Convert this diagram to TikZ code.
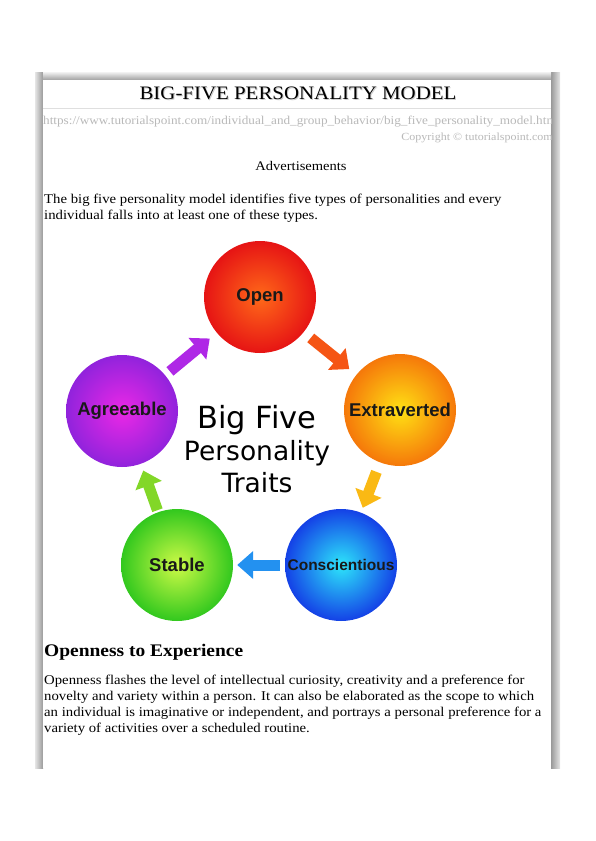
\documentclass[tikz,border=0pt]{standalone}
\usepackage{fontspec}
\setmainfont[FakeStretch=1.1]{Liberation Serif}
\setsansfont{Liberation Sans}
\newfontfamily\handfont{DejaVu Sans}
\usetikzlibrary{arrows.meta, positioning}
\definecolor{openIn}    {RGB}{255,105, 25}
\definecolor{openOut}   {RGB}{230, 20, 20}
\definecolor{extraIn}   {RGB}{255,225, 20}
\definecolor{extraOut}  {RGB}{245,120, 10}
\definecolor{agreeIn}   {RGB}{235, 40,230}
\definecolor{agreeOut}  {RGB}{145, 35,220}
\definecolor{stableIn}  {RGB}{205,250, 70}
\definecolor{stableOut} {RGB}{ 50,200, 30}
\definecolor{conscIn}   {RGB}{ 45,230,250}
\definecolor{conscOut}  {RGB}{ 20, 65,230}
\tikzset{
  trait/.style  = {circle, minimum size=112pt, inner sep=0pt, shading=radial,
                   text=black!90, font=\sffamily\bfseries\fontsize{18.5}{20}\selectfont},
  flow/.style   = {-{Triangle[width=27pt, length=16pt]}, line width=11pt},
  title/.style  = {anchor=base, inner sep=0pt, font=\fontsize{19}{22}\selectfont},
  faint/.style  = {inner sep=0pt, text=gray!55, font=\fontsize{12}{13}\selectfont},
  body/.style   = {anchor=north west, inner sep=0pt, align=left,
                   font=\fontsize{13.4}{16}\selectfont},
}

\begin{document}
\begin{tikzpicture}[x=1pt, y=-1pt]
\useasboundingbox (0,0) rectangle (595,841);

% ---- Page frame and its shadow ---------------------------------------------
\shade[left color=gray!20, right color=gray!80] (35,72) rectangle (43,768);
\shade[left color=gray!80, right color=gray!20] (551,72) rectangle (560,768);
\shade[top color=gray!10, bottom color=gray!75] (43,72) rectangle (551,80);
\fill[white] (43,80) rectangle (551,768);

% ---- Header -----------------------------------------------------------------
\node[title, text=gray!70, opacity=0.6] (titleshade) at (299,100.6)
  {BIG-FIVE PERSONALITY MODEL};
\node[title] (title) at (298,99) {BIG-FIVE PERSONALITY MODEL};
\draw[gray!25, line width=1.5pt] (43,108.5) -- (551,108.5);

\begin{scope}
\clip (43,80) rectangle (551,768);
\node[faint, anchor=base west] (url) at (43,124)
  {https://www.tutorialspoint.com/individual\_and\_group\_behavior/big\_five\_personality\_model.htm};
\node[faint, anchor=base east, font=\fontsize{10.9}{12}\selectfont] (copy) at (553,140)
  {Copyright \textcopyright\ tutorialspoint.com};
\end{scope}

\node[anchor=base, inner sep=0pt, font=\fontsize{13.2}{15}\selectfont] (ads) at (301,170)
  {Advertisements};

\node[body] (intro) at (44,193.5)
  {The big five personality model identifies five types of personalities and every\\
   individual falls into at least one of these types.};

% ---- The five traits ----------------------------------------------------------
\node[trait, inner color=openIn,   outer color=openOut]   (open)   at (260,297) {Open};
\node[trait, inner color=extraIn,  outer color=extraOut]  (extra)  at (400,410) {Extraverted};
\node[trait, inner color=conscIn,  outer color=conscOut,
      font=\sffamily\bfseries\fontsize{15.5}{17}\selectfont] (consc) at (341,565) {Conscientious};
\node[trait, inner color=stableIn, outer color=stableOut] (stable) at (177,565) {Stable};
\node[trait, inner color=agreeIn,  outer color=agreeOut]  (agree)  at (122,411) {Agreeable};

\node[anchor=north, inner sep=0pt, align=center, font=\handfont\fontsize{26.5}{32}\selectfont]
  (center) at (257,405.5)
  {{\fontsize{30.5}{32}\selectfont Big Five}\\Personality\\Traits};

% arrows round the cycle
\draw[flow, color={rgb,255:red,175;green,40;blue,230}, shorten <=6pt, shorten >=9pt]
  (agree) -- (open);
\draw[flow, color={rgb,255:red,245;green,85;blue,20}, shorten <=9pt, shorten >=9pt]
  (open) -- (extra);
\draw[flow, color={rgb,255:red,250;green,185;blue,20}, shorten <=10pt, shorten >=5pt]
  (extra) -- (consc);
\draw[flow, color={rgb,255:red,35;green,145;blue,240}, shorten <=5pt, shorten >=4pt]
  (consc) -- (stable);
\draw[flow, color={rgb,255:red,130;green,215;blue,40}, shorten <=2pt, shorten >=7pt]
  (stable) -- (agree);

% ---- Section ------------------------------------------------------------------
\node[anchor=base west, inner sep=0pt, font=\bfseries\fontsize{17.7}{20}\selectfont]
  (head) at (44,656) {Openness to Experience};
\node[body] (para) at (44,674.5)
  {Openness flashes the level of intellectual curiosity, creativity and a preference for\\
   novelty and variety within a person. It can also be elaborated as the scope to which\\
   an individual is imaginative or independent, and portrays a personal preference for a\\
   variety of activities over a scheduled routine.};

\end{tikzpicture}
\end{document}
